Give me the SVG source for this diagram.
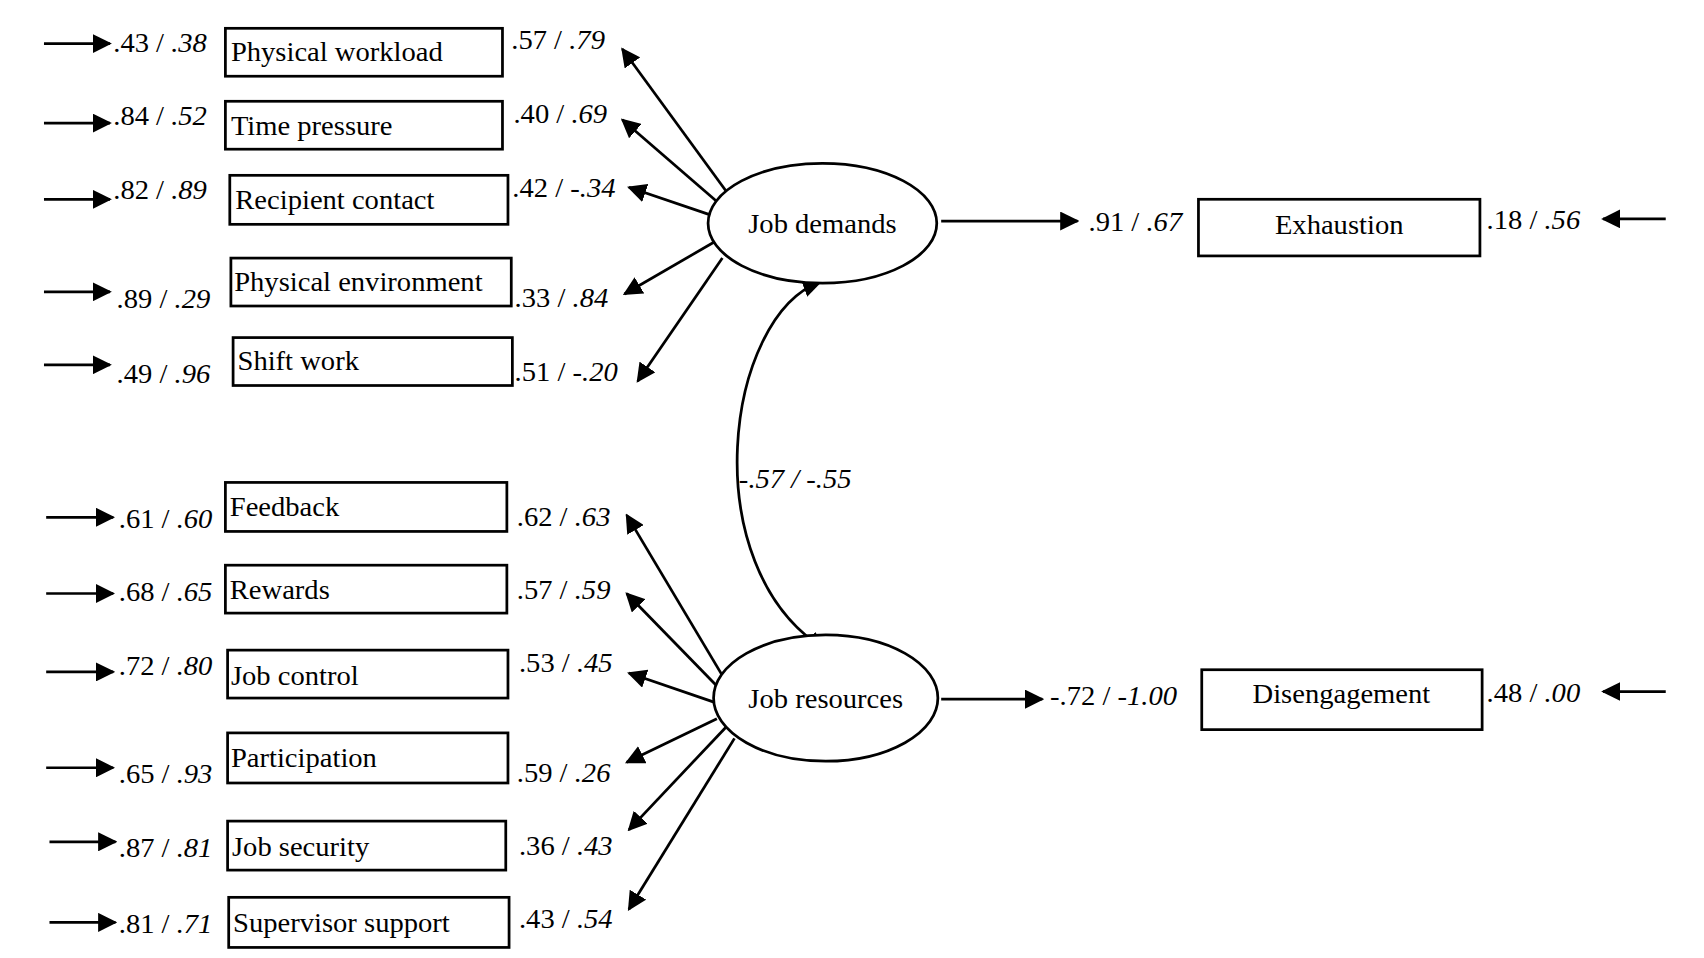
<svg xmlns="http://www.w3.org/2000/svg" width="1704" height="958" viewBox="0 0 1704 958">
<defs>
<marker id="ah" viewBox="0 0 10 10" refX="9" refY="5" markerWidth="7" markerHeight="7" orient="auto-start-reverse" markerUnits="strokeWidth"><path d="M0,0 L10,5 L0,10 z" fill="#000"/></marker>
<style>
text{font-family:"Liberation Serif","Times New Roman",serif;font-size:26px;fill:#000}
.i{font-style:italic}
rect,ellipse{fill:#fff;stroke:#000;stroke-width:2.5}
.c line,.c path{stroke:#000;stroke-width:2.5;fill:none;marker-end:url(#ah)}
</style>
</defs>
<rect width="1704" height="958" fill="#fff" style="stroke:none"/>
<g transform="scale(1.0995,1.089)">
<g class="c" id="connectors">
<line x1="40" y1="40" x2="100" y2="40"/><line x1="40" y1="113" x2="100" y2="113"/><line x1="40" y1="183" x2="100" y2="183"/><line x1="40" y1="268" x2="100" y2="268"/><line x1="40" y1="335" x2="100" y2="335"/>
<line x1="42" y1="475" x2="103" y2="475"/><line x1="42" y1="545" x2="103" y2="545"/><line x1="42" y1="617" x2="103" y2="617"/><line x1="42" y1="705" x2="103" y2="705"/><line x1="45" y1="773" x2="105" y2="773"/><line x1="45" y1="847" x2="105" y2="847"/>
<line x1="660" y1="175" x2="566" y2="45"/><line x1="652" y1="185" x2="566" y2="110"/><line x1="648" y1="198" x2="572" y2="172"/><line x1="650" y1="222" x2="568" y2="270"/><line x1="657" y1="237" x2="580" y2="350"/>
<line x1="658" y1="622" x2="570" y2="473"/><line x1="652" y1="630" x2="570" y2="545"/><line x1="650" y1="645" x2="572" y2="618"/><line x1="652" y1="660" x2="570" y2="700"/><line x1="660" y1="668" x2="572" y2="762"/><line x1="668" y1="678" x2="572" y2="835"/>
<line x1="856" y1="203" x2="980" y2="203"/><line x1="856" y1="642" x2="948" y2="642"/>
<line x1="1515" y1="201" x2="1458" y2="201"/><line x1="1515" y1="635" x2="1458" y2="635"/>
<path d="M 746 259 C 660 290, 630 520, 750 596" style="marker-start:url(#ah)"/>
</g>
<g id="physical-workload"><rect x="205" y="26" width="252" height="44"/><text x="210" y="56">Physical workload</text></g>
<g id="time-pressure"><rect x="205" y="93" width="252" height="44"/><text x="210" y="124">Time pressure</text></g>
<g id="recipient-contact"><rect x="209" y="161" width="253" height="45"/><text x="214" y="192">Recipient contact</text></g>
<g id="physical-environment"><rect x="210" y="237" width="255" height="44"/><text x="213" y="267">Physical environment</text></g>
<g id="shift-work"><rect x="212" y="310" width="254" height="44"/><text x="216" y="340">Shift work</text></g>
<g id="feedback"><rect x="205" y="443" width="256" height="45"/><text x="209" y="474">Feedback</text></g>
<g id="rewards"><rect x="205" y="519" width="256" height="44"/><text x="209" y="550">Rewards</text></g>
<g id="job-control"><rect x="207" y="597" width="255" height="44"/><text x="210" y="629">Job control</text></g>
<g id="participation"><rect x="207" y="673" width="255" height="46"/><text x="210" y="704">Participation</text></g>
<g id="job-security"><rect x="207" y="754" width="253" height="45"/><text x="211" y="786">Job security</text></g>
<g id="supervisor-support"><rect x="208" y="824" width="255" height="46"/><text x="212" y="856">Supervisor support</text></g>
<g id="job-demands"><ellipse cx="748" cy="205" rx="104" ry="55"/><text x="748" y="214" text-anchor="middle">Job demands</text></g>
<g id="job-resources"><ellipse cx="751" cy="641" rx="102" ry="58"/><text x="751" y="650" text-anchor="middle">Job resources</text></g>
<g id="exhaustion"><rect x="1090" y="183" width="256" height="52"/><text x="1218" y="215" text-anchor="middle">Exhaustion</text></g>
<g id="disengagement"><rect x="1093" y="615" width="255" height="55"/><text x="1220" y="646" text-anchor="middle">Disengagement</text></g>
<g id="labels">
<text x="103" y="48">.43 / <tspan class="i">.38</tspan></text>
<text x="103" y="115">.84 / <tspan class="i">.52</tspan></text>
<text x="103" y="183">.82 / <tspan class="i">.89</tspan></text>
<text x="106" y="283">.89 / <tspan class="i">.29</tspan></text>
<text x="106" y="352">.49 / <tspan class="i">.96</tspan></text>
<text x="108" y="485">.61 / <tspan class="i">.60</tspan></text>
<text x="108" y="552">.68 / <tspan class="i">.65</tspan></text>
<text x="108" y="620">.72 / <tspan class="i">.80</tspan></text>
<text x="108" y="719">.65 / <tspan class="i">.93</tspan></text>
<text x="108" y="787">.87 / <tspan class="i">.81</tspan></text>
<text x="108" y="857">.81 / <tspan class="i">.71</tspan></text>
<text x="465" y="45">.57 / <tspan class="i">.79</tspan></text>
<text x="467" y="113">.40 / <tspan class="i">.69</tspan></text>
<text x="466" y="181">.42 / <tspan class="i">-.34</tspan></text>
<text x="468" y="282">.33 / <tspan class="i">.84</tspan></text>
<text x="468" y="350">.51 / <tspan class="i">-.20</tspan></text>
<text x="470" y="483">.62 / <tspan class="i">.63</tspan></text>
<text x="470" y="550">.57 / <tspan class="i">.59</tspan></text>
<text x="472" y="617">.53 / <tspan class="i">.45</tspan></text>
<text x="470" y="718">.59 / <tspan class="i">.26</tspan></text>
<text x="472" y="785">.36 / <tspan class="i">.43</tspan></text>
<text x="472" y="852">.43 / <tspan class="i">.54</tspan></text>
<text x="990" y="212">.91 / <tspan class="i">.67</tspan></text>
<text x="955" y="647">-.72 / <tspan class="i">-1.00</tspan></text>
<text x="1352" y="210">.18 / <tspan class="i">.56</tspan></text>
<text x="1352" y="645">.48 / <tspan class="i">.00</tspan></text>
<text x="672" y="448" class="i">-.57 / -.55</text>
</g>
</g>
</svg>
